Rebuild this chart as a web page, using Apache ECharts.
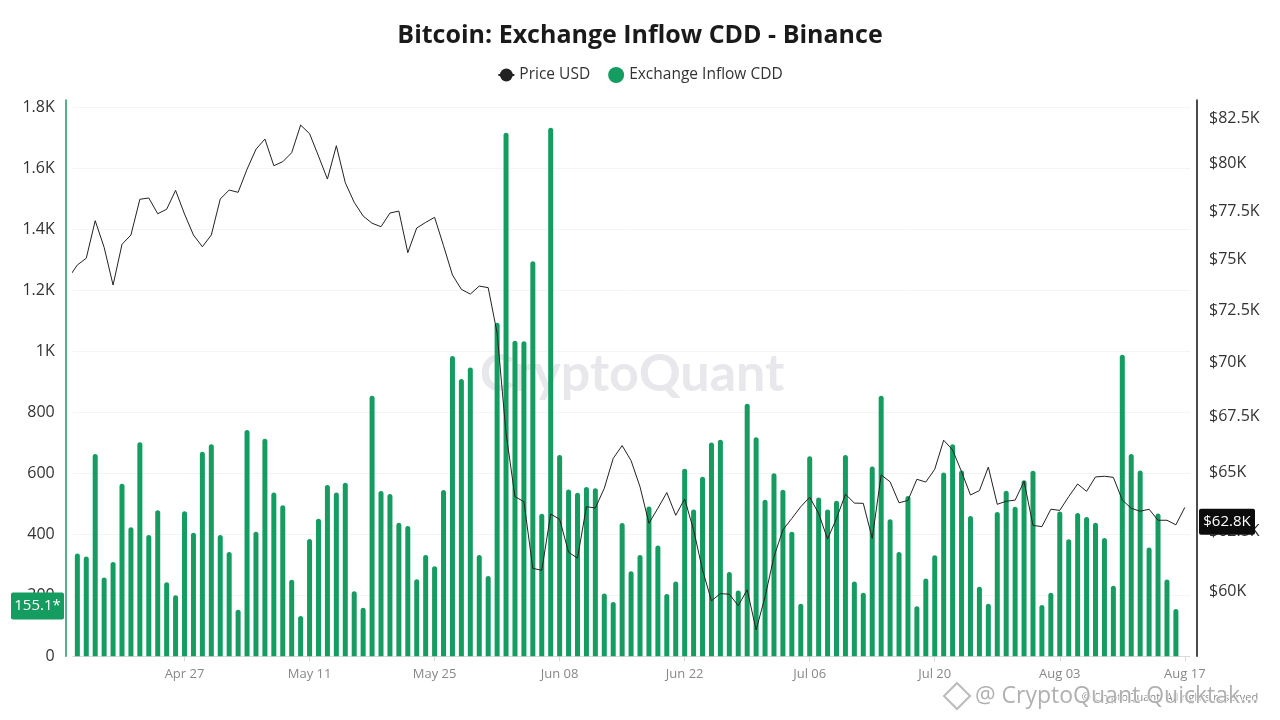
<!DOCTYPE html>
<html><head><meta charset="utf-8">
<style>html,body{margin:0;padding:0;background:#fff}#c{width:1280px;height:720px}</style>
<script src="https://cdn.jsdelivr.net/npm/echarts@6/dist/echarts.min.js"></script>
</head><body><div id="c"></div>
<script>
const titleText = 'Bitcoin: Exchange Inflow CDD - Binance';
const priceStart = '2026-04-14';
const inflowStart = '2026-04-15';
const xTickDates = ['2026-04-27','2026-05-11','2026-05-25','2026-06-08','2026-06-22','2026-07-06','2026-07-20','2026-08-03','2026-08-17'];
const xTickLabels = ['Apr 27','May 11','May 25','Jun 08','Jun 22','Jul 06','Jul 20','Aug 03','Aug 17'];
const priceTicks = [60000,62500,65000,67500,70000,72500,75000,77500,80000,82500];
const inflowCdd = [337,327,663,258,309,566,423,702,398,479,243,200,476,405,671,695,398,342,153,742,408,713,537,495,251,132,385,451,562,537,569,213,159,854,542,532,438,427,253,332,
295,545,985,909,947,332,263,1094,1717,1035,1033,1295,467,1733,660,547,536,555,551,206,178,437,279,332,491,363,204,245,615,481,589,701,710,276,216,828,718,513,600,546,408,172,656,521,481,510,660,245,
208,622,854,449,342,526,164,255,331,603,695,609,460,228,172,473,543,490,577,608,168,208,475,384,470,457,438,388,231,989,663,609,357,468,252,155.1];
const priceUsd = [74088,74737,75080,76997,75630,73738,75782,76260,78114,78182,77357,77591,78584,77342,76260,75660,76260,78127,78600,78480,79704,80784,81342,79896,80112,80598,82110,81636,80418,79182,80976,78990,77952,77238,76866,76686,77394,77496,75360,76620,76908,
77172,75714,74238,73524,73290,73686,73608,71394,66744,63960,63744,60948,60870,63216,62994,61614,61368,63528,63474,64320,65628,66192,65526,64386,62826,63462,64134,63162,63858,62544,60882,59634,59922,59898,59436,60078,58476,59796,61428,62544,63030,63528,63936,63246,62160,63030,64062,63684,
63672,62190,64902,64602,63696,63798,64710,64590,65148,66432,66000,65046,64032,64218,65244,63630,63762,63810,64620,62736,62682,63420,63372,63960,64506,64188,64812,64842,64794,63810,63462,63336,63420,62952,62952,62760,63498];
const latestPrice = 62800, latestPriceLabel = '$62.8K';
const latestInflow = 155.1, latestInflowLabel = '155.1*';

const DAY = 86400000;
const ts = s => Date.parse(s + 'T00:00:00Z');
const font = '"Open Sans","Noto Sans",sans-serif';
const green = '#159c61';
const tickTs = xTickDates.map(ts);
const chart = echarts.init(document.getElementById('c'));
const option = {
  animation: false, backgroundColor: '#fff',
  textStyle: {fontFamily: font},
  title: {text: titleText, left: 'center', top: 18,
    textStyle: {fontFamily: font, fontSize: 25, fontWeight: 700, color: '#1a1a1a'}},
  legend: {top: 62, left: 'center', itemWidth: 16, itemHeight: 16, itemGap: 18,
    textStyle: {fontFamily: font, fontSize: 15.5, color: '#333'},
    data: [{name: 'Price USD'}, {name: 'Exchange Inflow CDD', icon: 'circle'}]},
  grid: {left: 72.7, right: 90, top: 100, bottom: 63.7, containLabel: false},
  xAxis: {type: 'value', min: ts(inflowStart) - 0.52 * DAY, max: ts('2026-08-17') + 0.58 * DAY, scale: true,
    axisLine: {onZero: false, lineStyle: {color: '#dadada', width: 1}},
    axisTick: {show: true, length: 5, lineStyle: {color: '#dadada'}, customValues: tickTs},
    axisLabel: {color: '#888', fontSize: 13, fontFamily: font, margin: 11, customValues: tickTs, hideOverlap: false,
      formatter: v => xTickLabels[tickTs.indexOf(+v)] || ''},
    splitLine: {show: false}},
  yAxis: [{type: 'value', min: 0, max: 1824, interval: 200, offset: 7, position: 'left',
      axisLine: {show: true, lineStyle: {color: green, width: 1.5}},
      axisTick: {show: false},
      axisLabel: {color: '#333', fontSize: 16, fontFamily: font, margin: 11, showMaxLabel: false,
        formatter: v => v >= 1000 ? (v / 1000) + 'K' : String(v)},
      splitLine: {show: true, showMaxLine: false, lineStyle: {color: '#f4f4f4', width: 1}}},
    {type: 'log', logBase: 10, min: 57450, max: 83505, offset: 7, position: 'right',
      axisLine: {show: true, lineStyle: {color: '#111', width: 1.5}},
      axisTick: {show: false},
      axisLabel: {color: '#333', fontSize: 16, fontFamily: font, margin: 12, customValues: priceTicks,
        formatter: v => '$' + (v / 1000) + 'K'},
      splitLine: {show: false}}],
  series: [
    {name: 'Price USD', type: 'line', yAxisIndex: 1, z: 5, symbol: 'none', showSymbol: false,
      lineStyle: {color: '#222', width: 1}, itemStyle: {color: '#222'},
      data: priceUsd.map((v, i) => [ts(priceStart) + i * DAY, v])},
    {name: 'Exchange Inflow CDD', type: 'bar', yAxisIndex: 0, z: 2, barWidth: 5,
      itemStyle: {color: green, borderRadius: [2.5, 2.5, 0, 0]},
      data: inflowCdd.map((v, i) => [ts(inflowStart) + i * DAY, v])}
  ]
};
chart.setOption(option);

const yL = chart.convertToPixel({yAxisIndex: 0}, latestInflow) - 3;
const yR = chart.convertToPixel({yAxisIndex: 1}, latestPrice) - 2;
chart.setOption({graphic: [
  {type: 'text', z: 0, style: {x: 632, y: 374, text: 'CryptoQuant', align: 'center', verticalAlign: 'middle',
     font: '700 52px Lato,"Open Sans",sans-serif', fill: '#e8e8ec'}},
  {type: 'rect', z: 100, shape: {x: 11, y: yL - 13.5, width: 53, height: 27, r: 2}, style: {fill: green}},
  {type: 'text', z: 101, style: {x: 37.5, y: yL, text: latestInflowLabel, align: 'center', verticalAlign: 'middle',
     font: '15px ' + font, fill: '#fff'}},
  {type: 'rect', z: 100, shape: {x: 1199, y: yR - 13, width: 56, height: 26, r: 2}, style: {fill: '#0c0c0c'}},
  {type: 'text', z: 101, style: {x: 1227, y: yR, text: latestPriceLabel, align: 'center', verticalAlign: 'middle',
     font: '15px ' + font, fill: '#fff'}},
  {type: 'text', z: 102, style: {x: 1170, y: 698, text: '© CryptoQuant. All rights reserved', align: 'center', verticalAlign: 'middle',
     font: '11px ' + font, fill: '#888'}},
  {type: 'text', z: 103, style: {x: 975, y: 696, text: '@ CryptoQuant Quicktak...', align: 'left', verticalAlign: 'middle',
     font: '23px ' + font, fill: 'rgba(150,150,150,0.75)', stroke: 'rgba(255,255,255,0.8)', lineWidth: 2}},
  {type: 'polygon', z: 103, shape: {points: [[957,683],[970,696],[957,709],[944,696]]},
     style: {fill: 'rgba(255,255,255,0.6)', stroke: 'rgba(170,170,170,0.8)', lineWidth: 2}}
]});
</script></body></html>
